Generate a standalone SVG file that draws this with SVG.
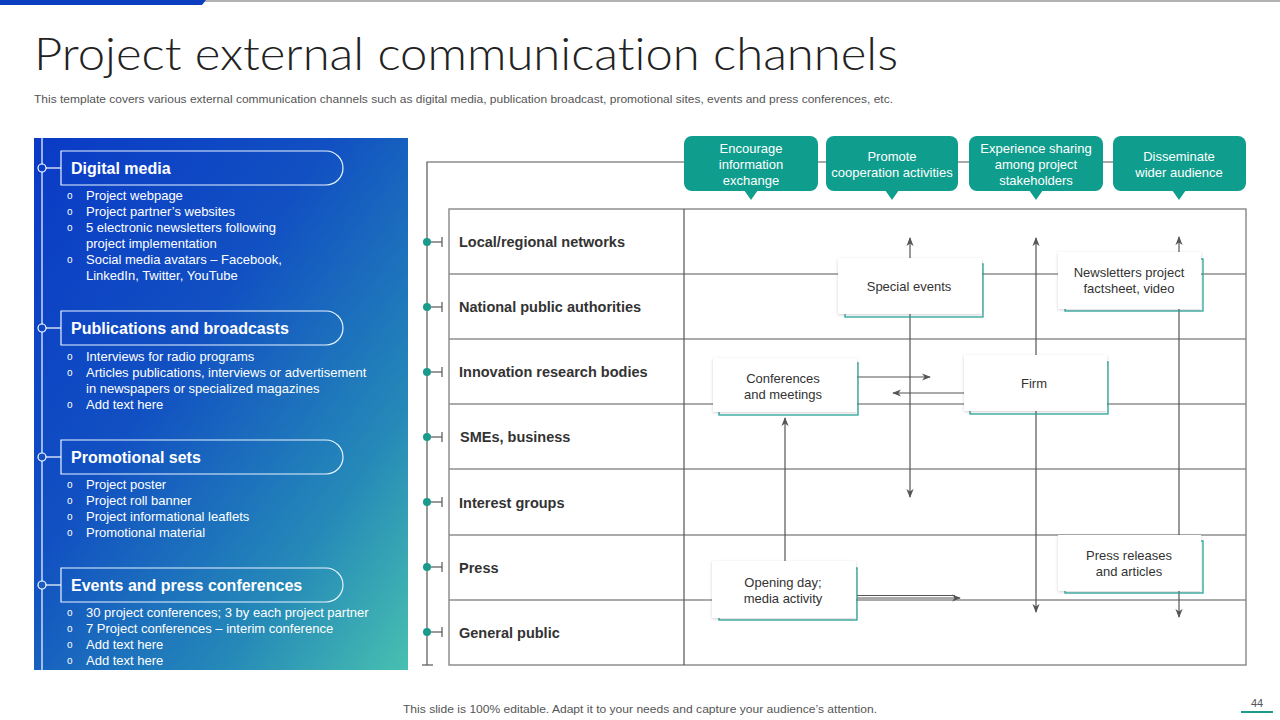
<svg xmlns="http://www.w3.org/2000/svg" width="1280" height="720" viewBox="0 0 1280 720">
<defs>
<linearGradient id="panel" x1="0" y1="0" x2="1" y2="1">
<stop offset="0" stop-color="#0a3ac6"/>
<stop offset="0.4" stop-color="#1150c2"/>
<stop offset="0.75" stop-color="#2589b8"/>
<stop offset="1" stop-color="#48c0b0"/>
</linearGradient>
<marker id="ah" viewBox="0 0 10 10" refX="9" refY="5" markerWidth="9" markerHeight="9" orient="auto-start-reverse" markerUnits="userSpaceOnUse">
<path d="M0,1 L10,5 L0,9 L3,5 Z" fill="#555"/>
</marker>
<filter id="sh" x="-10%" y="-15%" width="120%" height="135%">
<feDropShadow dx="0" dy="1" stdDeviation="1.6" flood-color="#000" flood-opacity="0.18"/>
</filter>
<style>
.title{font-family:Lato,"Liberation Sans",sans-serif;font-weight:300;font-size:46px;fill:#222;font-variant-ligatures:none}
.sub{font-family:"Liberation Sans",Arial,sans-serif;font-size:11px;fill:#555}
.hdr{font-family:"Liberation Sans",Arial,sans-serif;font-weight:bold;font-size:16px;fill:#fff}
.bl{font-family:"Liberation Sans",Arial,sans-serif;font-size:13px;fill:#fff}
.bo{font-family:"Liberation Sans",Arial,sans-serif;font-size:10px;fill:#fff}
.pill{fill:none;stroke:#e8f4ff;stroke-width:1.2}
.wl{stroke:#fff;stroke-width:1.2}
.row{font-family:"Liberation Sans",Arial,sans-serif;font-weight:bold;font-size:14.5px;fill:#333}
.teal{fill:#0f9d8d}
.tt{font-family:"Liberation Sans",Arial,sans-serif;font-size:13px;fill:#fff;text-anchor:middle}
.grid{stroke:#8e8e8e;stroke-width:1.5;fill:none}
.ln{stroke:#555;stroke-width:1.2;fill:none}
.arr{stroke:#555;stroke-width:1.2;fill:none;marker-end:url(#ah)}
.arr2{stroke:#555;stroke-width:1.2;fill:none;marker-end:url(#ah);marker-start:url(#ah)}
.box{fill:#fff;filter:url(#sh)}
.bxo{fill:none;stroke:#2aa79b;stroke-width:1.3}
.bt{font-family:"Liberation Sans",Arial,sans-serif;font-size:13px;fill:#333;text-anchor:middle}
.dot{fill:#1a9a8b}
</style>
</defs>
<rect width="1280" height="720" fill="#fff"/>
<!-- top bar -->
<line x1="200" y1="1" x2="1280" y2="1" stroke="#666" stroke-width="1"/>
<path d="M0,0 H206 L202,5 H0 Z" fill="#0b3fc0"/>
<text class="title" x="34" y="70" textLength="864" lengthAdjust="spacingAndGlyphs">Project external communication channels</text>
<text class="sub" x="34" y="103" textLength="859" lengthAdjust="spacingAndGlyphs">This template covers various external communication channels such as digital media, publication broadcast, promotional sites, events and press conferences, etc.</text>

<!-- left panel -->
<g id="left-panel">
<rect x="34" y="138" width="374" height="532" fill="url(#panel)"/>
<line class="wl" x1="42" y1="138" x2="42" y2="670"/>
</g>
<g id="digital-media">
<line class="wl" x1="46" y1="168" x2="61" y2="168"/>
<circle cx="42" cy="168" r="4" fill="#0b3ec6" stroke="#fff" stroke-width="1.2"/>
<path class="pill" d="M61,151 H326 A17,17 0 0 1 326,185 H61 Z"/>
<text class="hdr" x="71" y="174">Digital media</text>
<g class="bo"><text x="67" y="199">o</text><text x="67" y="215">o</text><text x="67" y="231">o</text><text x="67" y="263">o</text></g>
<text class="bl" x="86" y="200">Project webpage</text>
<text class="bl" x="86" y="216">Project partner’s websites</text>
<text class="bl" x="86" y="232">5 electronic newsletters following</text>
<text class="bl" x="86" y="248">project implementation</text>
<text class="bl" x="86" y="264">Social media avatars – Facebook,</text>
<text class="bl" x="86" y="280">LinkedIn, Twitter, YouTube</text>
</g>
<g id="publications">
<line class="wl" x1="46" y1="328" x2="61" y2="328"/>
<circle cx="42" cy="328" r="4" fill="#0e46c4" stroke="#fff" stroke-width="1.2"/>
<path class="pill" d="M61,311 H326 A17,17 0 0 1 326,345 H61 Z"/>
<text class="hdr" x="71" y="334">Publications and broadcasts</text>
<g class="bo"><text x="67" y="360">o</text><text x="67" y="376">o</text><text x="67" y="408">o</text></g>
<text class="bl" x="86" y="361">Interviews  for radio programs</text>
<text class="bl" x="86" y="377">Articles publications, interviews or advertisement</text>
<text class="bl" x="86" y="393">in newspapers or specialized magazines</text>
<text class="bl" x="86" y="409">Add text here</text>
</g>
<g id="promotional">
<line class="wl" x1="46" y1="457" x2="61" y2="457"/>
<circle cx="42" cy="457" r="4" fill="#1452c0" stroke="#fff" stroke-width="1.2"/>
<path class="pill" d="M61,440 H326 A17,17 0 0 1 326,474 H61 Z"/>
<text class="hdr" x="71" y="463">Promotional sets</text>
<g class="bo"><text x="67" y="488">o</text><text x="67" y="504">o</text><text x="67" y="520">o</text><text x="67" y="536">o</text></g>
<text class="bl" x="86" y="489">Project poster</text>
<text class="bl" x="86" y="505">Project roll banner</text>
<text class="bl" x="86" y="521">Project informational  leaflets</text>
<text class="bl" x="86" y="537">Promotional material</text>
</g>
<g id="events">
<line class="wl" x1="46" y1="585" x2="61" y2="585"/>
<circle cx="42" cy="585" r="4" fill="#1a5ebf" stroke="#fff" stroke-width="1.2"/>
<path class="pill" d="M61,568 H326 A17,17 0 0 1 326,602 H61 Z"/>
<text class="hdr" x="71" y="591">Events and press conferences</text>
<g class="bo"><text x="67" y="616">o</text><text x="67" y="632">o</text><text x="67" y="648">o</text><text x="67" y="664">o</text></g>
<text class="bl" x="86" y="617">30 project conferences; 3 by each project partner</text>
<text class="bl" x="86" y="633">7 Project conferences  – interim conference</text>
<text class="bl" x="86" y="649">Add text here</text>
<text class="bl" x="86" y="665">Add text here</text>
</g>

<!-- table grid -->
<g id="table">
<rect class="grid" x="449" y="209" width="797" height="456"/>
<line class="grid" x1="449" y1="274" x2="1246" y2="274"/>
<line class="grid" x1="449" y1="339" x2="1246" y2="339"/>
<line class="grid" x1="449" y1="404" x2="1246" y2="404"/>
<line class="grid" x1="449" y1="469" x2="1246" y2="469"/>
<line class="grid" x1="449" y1="535" x2="1246" y2="535"/>
<line class="grid" x1="449" y1="600" x2="1246" y2="600"/>
<line x1="684" y1="209" x2="684" y2="665" stroke="#555" stroke-width="1.2"/>
</g>

<!-- connectors -->
<g id="connectors">
<path class="ln" d="M1113,162 H427 V665"/>
<line class="ln" x1="422" y1="665" x2="433" y2="665"/>
<path class="arr2" d="M910,497 V238"/>
<path class="arr2" d="M1036,612 V238"/>
<path class="arr2" d="M1179,617 V237"/>
<path class="arr" d="M785,562 V418"/>
<path class="arr" d="M857,377 H930"/>
<path class="arr" d="M964,393 H893"/>
<path class="ln" d="M857,595.5 H955"/>
<path class="arr" d="M857,598 H960"/>
</g>

<!-- row labels -->
<g id="rows">
<g id="row-local"><circle class="dot" cx="427" cy="242" r="4"/><line class="ln" x1="431" y1="242" x2="442" y2="242"/><line class="ln" x1="442" y1="237" x2="442" y2="247"/><text class="row" x="459" y="247">Local/regional networks</text></g>
<g id="row-national"><circle class="dot" cx="427" cy="307" r="4"/><line class="ln" x1="431" y1="307" x2="442" y2="307"/><line class="ln" x1="442" y1="302" x2="442" y2="312"/><text class="row" x="459" y="312">National public authorities</text></g>
<g id="row-innovation"><circle class="dot" cx="427" cy="372" r="4"/><line class="ln" x1="431" y1="372" x2="442" y2="372"/><line class="ln" x1="442" y1="367" x2="442" y2="377"/><text class="row" x="459" y="377">Innovation research bodies</text></g>
<g id="row-smes"><circle class="dot" cx="427" cy="437" r="4"/><line class="ln" x1="431" y1="437" x2="442" y2="437"/><line class="ln" x1="442" y1="432" x2="442" y2="442"/><text class="row" x="460" y="442">SMEs, business</text></g>
<g id="row-interest"><circle class="dot" cx="427" cy="502" r="4"/><line class="ln" x1="431" y1="502" x2="442" y2="502"/><line class="ln" x1="442" y1="497" x2="442" y2="507"/><text class="row" x="459" y="508">Interest groups</text></g>
<g id="row-press"><circle class="dot" cx="427" cy="567" r="4"/><line class="ln" x1="431" y1="567" x2="442" y2="567"/><line class="ln" x1="442" y1="562" x2="442" y2="572"/><text class="row" x="459" y="573">Press</text></g>
<g id="row-public"><circle class="dot" cx="427" cy="632" r="4"/><line class="ln" x1="431" y1="632" x2="442" y2="632"/><line class="ln" x1="442" y1="627" x2="442" y2="637"/><text class="row" x="459" y="638">General public</text></g>
</g>

<!-- header teal boxes -->
<g id="h-encourage">
<rect class="teal" x="684" y="136" width="134" height="55" rx="8"/>
<path class="teal" d="M744,190 L751,200 L758,190 Z"/>
<text class="tt" x="751" y="153">Encourage</text><text class="tt" x="751" y="169">information</text><text class="tt" x="751" y="185">exchange</text>
</g>
<g id="h-promote">
<rect class="teal" x="826" y="136" width="132" height="55" rx="8"/>
<path class="teal" d="M885,190 L892,200 L899,190 Z"/>
<text class="tt" x="892" y="161">Promote</text><text class="tt" x="892" y="177">cooperation  activities</text>
</g>
<g id="h-experience">
<rect class="teal" x="969" y="136" width="134" height="55" rx="8"/>
<path class="teal" d="M1029,190 L1036,200 L1043,190 Z"/>
<text class="tt" x="1036" y="153">Experience sharing</text><text class="tt" x="1036" y="169">among project</text><text class="tt" x="1036" y="185">stakeholders</text>
</g>
<g id="h-disseminate">
<rect class="teal" x="1113" y="136" width="133" height="55" rx="8"/>
<path class="teal" d="M1172,190 L1179,200 L1186,190 Z"/>
<text class="tt" x="1179" y="161">Disseminate</text><text class="tt" x="1179" y="177">wider audience</text>
</g>

<!-- white nodes -->
<g id="n-special">
<rect class="bxo" x="845" y="264" width="138" height="53"/>
<rect class="box" x="838" y="258" width="144" height="56"/>
<text class="bt" x="909" y="291">Special events</text>
</g>
<g id="n-newsletters">
<rect class="bxo" x="1065" y="259" width="138" height="52"/>
<rect class="box" x="1058" y="252" width="143" height="57"/>
<text class="bt" x="1129" y="277">Newsletters  project</text><text class="bt" x="1129" y="293">factsheet, video</text>
</g>
<g id="n-conferences">
<rect class="bxo" x="719" y="363" width="139" height="52"/>
<rect class="box" x="713" y="358" width="144" height="54"/>
<text class="bt" x="783" y="383">Conferences</text><text class="bt" x="783" y="399">and  meetings</text>
</g>
<g id="n-firm">
<rect class="bxo" x="970" y="362" width="138" height="52"/>
<rect class="box" x="964" y="355" width="143" height="56"/>
<text class="bt" x="1034" y="388">Firm</text>
</g>
<g id="n-opening">
<rect class="bxo" x="719" y="568" width="138" height="52"/>
<rect class="box" x="712" y="561" width="144" height="57"/>
<text class="bt" x="783" y="587">Opening  day;</text><text class="bt" x="783" y="603">media activity</text>
</g>
<g id="n-press">
<rect class="bxo" x="1065" y="541" width="138" height="52"/>
<rect class="box" x="1058" y="535" width="143" height="56"/>
<text class="bt" x="1129" y="560">Press releases</text><text class="bt" x="1129" y="576">and articles</text>
</g>

<!-- footer -->
<text class="sub" x="403" y="713" textLength="474" lengthAdjust="spacingAndGlyphs">This slide is 100% editable. Adapt it to your needs and capture your audience’s attention.</text>
<text class="sub" x="1257" y="707" text-anchor="middle">44</text>
<line x1="1241" y1="712" x2="1273" y2="712" stroke="#1a9a8b" stroke-width="2"/>
</svg>
